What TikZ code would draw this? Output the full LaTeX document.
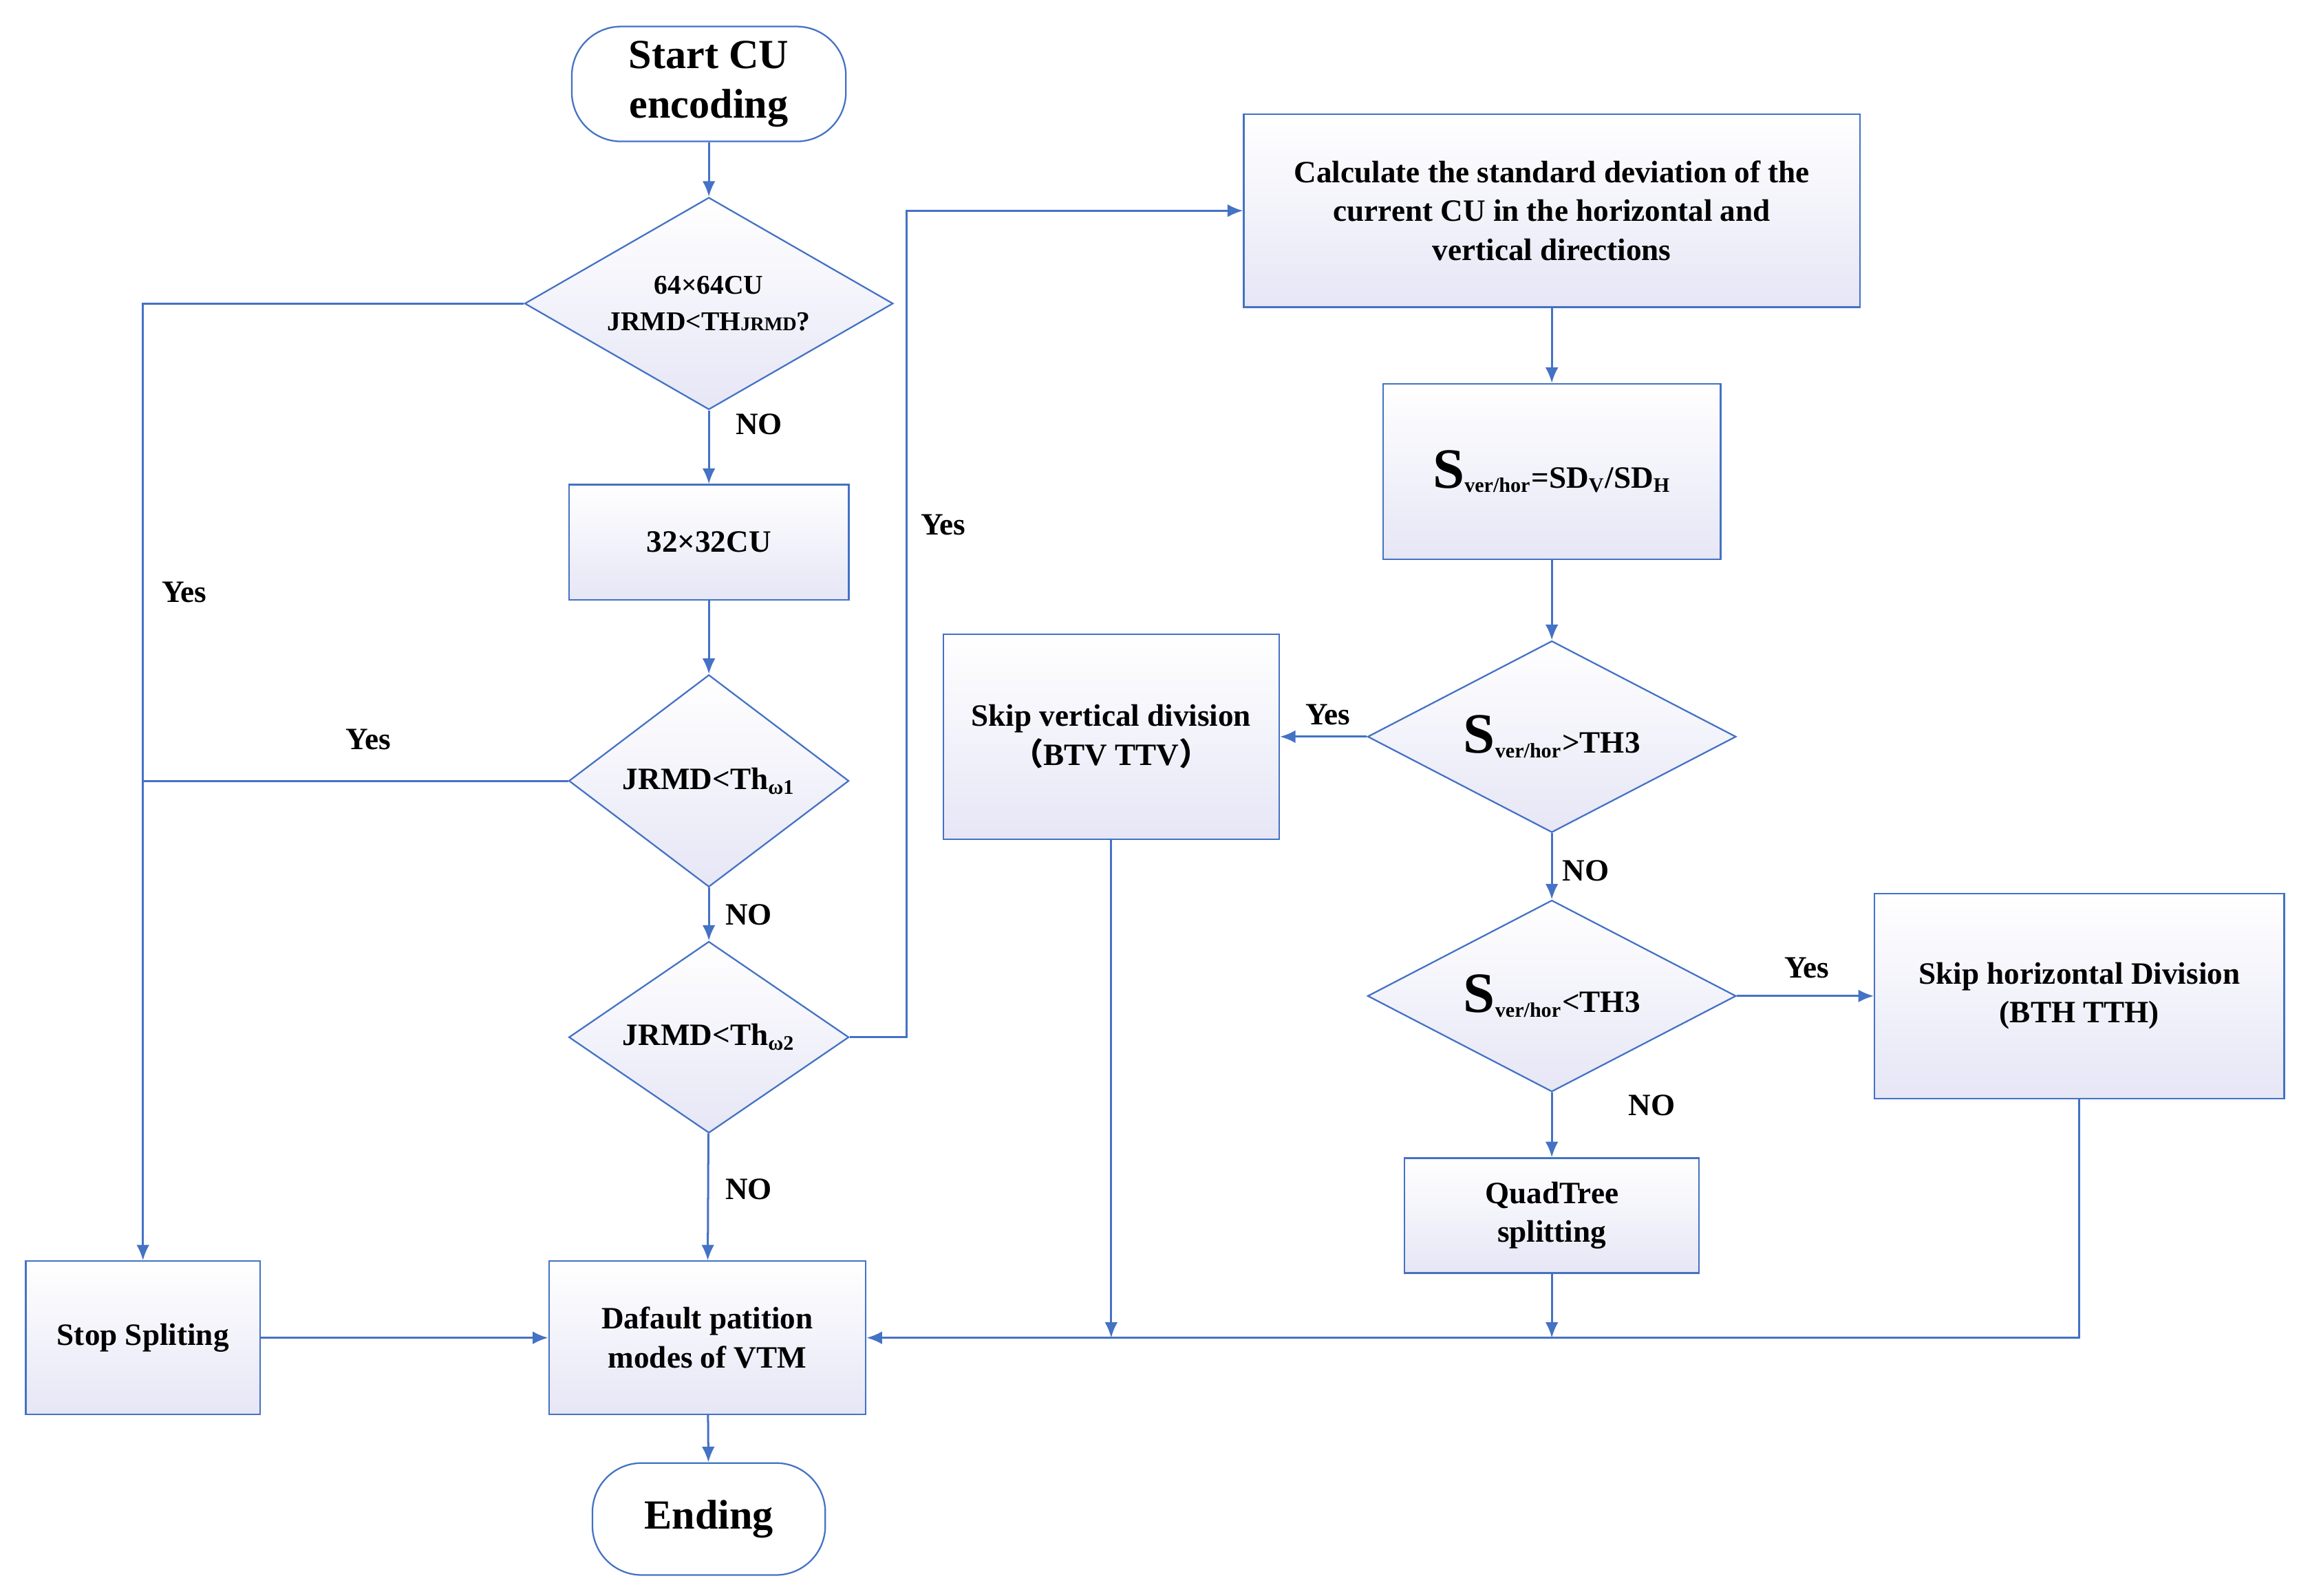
\documentclass[tikz,border=0pt]{standalone}
\usepackage{fontspec}
\setmainfont{Liberation Serif}
\newfontfamily\cjk{Noto Sans CJK SC}
\usetikzlibrary{shapes.geometric,arrows.meta}
\definecolor{ln}{HTML}{4472C4}
\definecolor{fl}{HTML}{E6E6F6}
\begin{document}
\begin{tikzpicture}[x=0.02cm,y=-0.02cm,
  every node/.style={font=\bfseries\fontsize{12}{15}\selectfont, align=center, text=black},
  box/.style={draw=ln, line width=0.6pt, top color=white, bottom color=fl, inner sep=2pt},
  dia/.style={box, diamond, inner sep=0pt},
  term/.style={draw=ln, line width=0.6pt, fill=white, rounded corners=19pt, font=\bfseries\fontsize{16}{19}\selectfont},
  ar/.style={draw=ln, line width=0.8pt, -{Latex[length=6pt,width=5pt]}},
  ln/.style={draw=ln, line width=0.8pt},
  lab/.style={font=\bfseries\fontsize{12}{14}\selectfont}]
\useasboundingbox (0,0) rectangle (1560,1083);
\newcommand{\bigS}{{\fontsize{22}{22}\selectfont S}}
% nodes
\node[term, minimum width=186*0.02cm, minimum height=78*0.02cm] (start) at (481,57) {Start CU\\encoding};
\node[dia, minimum width=250*0.02cm, minimum height=144*0.02cm] (d1) at (481,206) {};
\node[font=\bfseries\fontsize{10.5}{14}\selectfont] (t1) at (d1) {64×64CU\\JRMD<TH{\fontsize{7.5}{8}\selectfont JRMD}?};
\node[box, minimum width=190*0.02cm, minimum height=78*0.02cm] (b32) at (481,368) {32×32CU};
\node[dia, minimum width=190*0.02cm, minimum height=144*0.02cm] (d2) at (481,530) {};
\node (t2) at (d2) {JRMD<Th\textsubscript{ω1}};
\node[dia, minimum width=190*0.02cm, minimum height=130*0.02cm] (d3) at (481,704) {};
\node (t3) at (d3) {JRMD<Th\textsubscript{ω2}};
\node[box, minimum width=215*0.02cm, minimum height=104*0.02cm] (def) at (480,908) {Dafault patition\\modes of VTM};
\node[term, minimum width=158*0.02cm, minimum height=76*0.02cm] (end) at (481,1031) {Ending};
\node[box, minimum width=159*0.02cm, minimum height=104*0.02cm] (stop) at (97,908) {Stop Spliting};
\node[box, minimum width=418*0.02cm, minimum height=131*0.02cm] (calc) at (1053,143) {Calculate the standard deviation of the\\current CU in the horizontal and\\vertical directions};
\node[box, minimum width=229*0.02cm, minimum height=119*0.02cm] (S) at (1053,320) {\bigS\textsubscript{ver/hor}=SD\textsubscript{V}/SD\textsubscript{H}};
\node[dia, minimum width=250*0.02cm, minimum height=130*0.02cm] (d4) at (1053,500) {};
\node (t4) at (d4) {\bigS\textsubscript{ver/hor}>TH3};
\node[box, minimum width=228*0.02cm, minimum height=139*0.02cm] (skipv) at (754,500) {Skip vertical division\\{\cjk （}BTV TTV{\cjk ）}};
\node[dia, minimum width=250*0.02cm, minimum height=130*0.02cm] (d5) at (1053,676) {};
\node (t5) at (d5) {\bigS\textsubscript{ver/hor}<TH3};
\node[box, minimum width=278*0.02cm, minimum height=139*0.02cm] (skiph) at (1411,676) {Skip horizontal Division\\(BTH TTH)};
\node[box, minimum width=200*0.02cm, minimum height=78*0.02cm] (quad) at (1053,825) {QuadTree\\splitting};
\coordinate (j1) at (97,206);
\coordinate (j2) at (97,530);
\coordinate (r1) at (615,704);
\coordinate (r2) at (615,143);
\coordinate (vq) at (754,908);
\coordinate (qq) at (1053,908);
\coordinate (hq) at (1411,908);
% edges
\draw[ar] (start) -- (d1);
\draw[ar] (d1) -- (b32);
\draw[ar] (d1.west) -- (j1) -- (stop.north);
\draw[ar] (b32) -- (d2);
\draw[ln] (d2.west) -- (j2);
\draw[ar] (d2) -- (d3);
\draw[ar] (d3) -- (def);
\draw[ar] (d3.east) -- (r1) -- (r2) -- (calc.west);
\draw[ar] (calc) -- (S);
\draw[ar] (S) -- (d4);
\draw[ar] (d4.west) -- (skipv.east);
\draw[ar] (d4) -- (d5);
\draw[ar] (d5.east) -- (skiph.west);
\draw[ar] (d5) -- (quad);
\draw[ar] (stop) -- (def);
\draw[ar] (def) -- (end);
\draw[ar] (skiph.south) -- (hq) -- (def.east);
\draw[ar] (skipv.south) -- (vq);
\draw[ar] (quad.south) -- (qq);
% labels
\node[lab] (l1) at (515,288) {NO};
\node[lab] (l2) at (125,402) {Yes};
\node[lab] (l3) at (250,502) {Yes};
\node[lab] (l4) at (508,621) {NO};
\node[lab] (l5) at (508,807) {NO};
\node[lab] (l6) at (640,356) {Yes};
\node[lab] (l7) at (901,485) {Yes};
\node[lab] (l8) at (1076,591) {NO};
\node[lab] (l9) at (1226,657) {Yes};
\node[lab] (l10) at (1121,750) {NO};
\end{tikzpicture}
\end{document}
